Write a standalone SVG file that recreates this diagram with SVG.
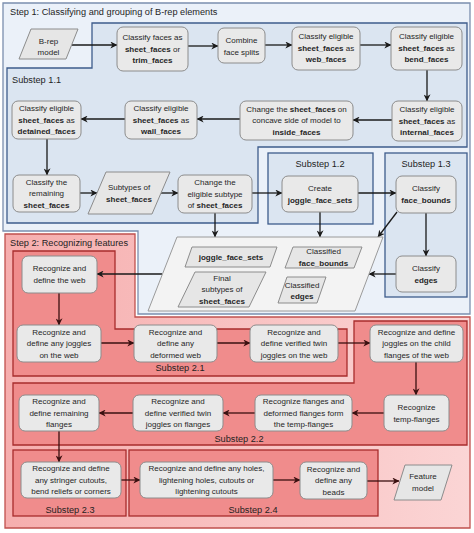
<svg xmlns="http://www.w3.org/2000/svg" width="474" height="533" viewBox="0 0 474 533">
<defs>
<style>
text{font-family:"Liberation Sans",Arial,sans-serif;font-size:8px;fill:#262626}
.t{text-anchor:middle}
.b{font-weight:bold}
.lbl{font-size:9.2px;fill:#1e1e1e}
.node rect{fill:#e9e9e9;stroke:#8c8c8c;stroke-width:1}
.node polygon{fill:#e6e6e6;stroke:#8c8c8c;stroke-width:1}
.big polygon{fill:#f3f3f3;stroke:#9a9a9a;stroke-width:1}
.s1{fill:#ebf1f9;stroke:#7b8fae;stroke-width:1.3}
.s1sub{fill:#dbe5f1;stroke:#3e5c8c;stroke-width:1.3}
.s2{fill:url(#pg);stroke:#c0504d;stroke-width:1.3}
.s2sub{fill:#f08c8c;stroke:#a82c2c;stroke-width:1.3}
.c1 line{stroke:#1a1a1a;stroke-width:1.3;marker-end:url(#ah)}
.c2 line{stroke:#3a1010;stroke-width:1.3;marker-end:url(#ah2)}
</style>
<linearGradient id="pg" x1="0" y1="0" x2="1" y2="0">
<stop offset="0" stop-color="#f6aeae"/>
<stop offset="1" stop-color="#fbd5d5"/>
</linearGradient>
<marker id="ah" viewBox="0 0 10 10" refX="9.5" refY="5" markerWidth="7" markerHeight="7" markerUnits="userSpaceOnUse" orient="auto">
<path d="M0,0 L10,5 L0,10 L3,5 z" fill="#1a1a1a"/>
</marker>
<marker id="ah2" viewBox="0 0 10 10" refX="9.5" refY="5" markerWidth="7" markerHeight="7" markerUnits="userSpaceOnUse" orient="auto">
<path d="M0,0 L10,5 L0,10 L3,5 z" fill="#3a1010"/>
</marker>
</defs>

<g id="regions">
<polygon id="step1" class="s1" points="3,3 470,3 470,314 138,314 138,231 3,231"/>
<polygon id="substep1_1" class="s1sub" points="92,23 467,23 467,147 258,147 258,223 7,223 7,68 92,68"/>
<rect id="substep1_2" class="s1sub" x="268" y="153" width="105" height="71"/>
<rect id="substep1_3" class="s1sub" x="385" y="153" width="82" height="144"/>
<polygon id="step2" class="s2" points="5,234 135,234 135,317 470,317 470,528 5,528"/>
<polygon id="substep2_1" class="s2sub" points="13,251 115,251 115,329 347,329 347,376 13,376"/>
<polygon id="substep2_2" class="s2sub" points="354,321 467,321 467,445 13,445 13,383 354,383"/>
<rect id="substep2_3" class="s2sub" x="13" y="450" width="113" height="66"/>
<rect id="substep2_4" class="s2sub" x="129" y="450" width="249" height="66"/>
<text class="lbl" x="10" y="15">Step 1: Classifying and grouping of B-rep elements</text>
<text class="lbl" x="12" y="83">Substep 1.1</text>
<text class="lbl t" x="320" y="167">Substep 1.2</text>
<text class="lbl t" x="426" y="167">Substep 1.3</text>
<text class="lbl" x="10" y="246">Step 2: Recognizing features</text>
<text class="lbl t" x="180" y="371">Substep 2.1</text>
<text class="lbl t" x="239" y="442">Substep 2.2</text>
<text class="lbl t" x="70" y="513">Substep 2.3</text>
<text class="lbl t" x="253" y="513">Substep 2.4</text>
</g>

<g id="connectors">
<g class="c1">
<line x1="72" y1="45" x2="117" y2="45"/>
<line x1="188" y1="46" x2="218" y2="46"/>
<line x1="265" y1="45" x2="292" y2="45"/>
<line x1="360" y1="45" x2="391" y2="45"/>
<line x1="427" y1="70" x2="427" y2="101"/>
<line x1="392" y1="120" x2="353" y2="120"/>
<line x1="240" y1="119" x2="197" y2="119"/>
<line x1="125" y1="119" x2="81" y2="119"/>
<line x1="47" y1="139" x2="47" y2="175"/>
<line x1="80" y1="193" x2="97" y2="193"/>
<line x1="161" y1="193" x2="178" y2="193"/>
<line x1="252" y1="193" x2="282" y2="193"/>
<line x1="358" y1="193" x2="396" y2="193"/>
<line x1="215" y1="213" x2="215" y2="237"/>
<line x1="320" y1="212" x2="320" y2="237"/>
<line x1="397" y1="212" x2="378" y2="237"/>
<line x1="426" y1="213" x2="426" y2="256"/>
<line x1="396" y1="274" x2="369" y2="274"/>
<line x1="162" y1="274" x2="97" y2="274"/>
</g>
<g class="c2">
<line x1="59" y1="293" x2="59" y2="325"/>
<line x1="101" y1="343" x2="134" y2="343"/>
<line x1="217" y1="343" x2="250" y2="343"/>
<line x1="338" y1="343" x2="370" y2="343"/>
<line x1="416" y1="362" x2="416" y2="395"/>
<line x1="384" y1="413" x2="352" y2="413"/>
<line x1="255" y1="413" x2="223" y2="413"/>
<line x1="133" y1="413" x2="99" y2="413"/>
<line x1="59" y1="431" x2="59" y2="462"/>
<line x1="121" y1="480" x2="140" y2="480"/>
<line x1="273" y1="480" x2="300" y2="480"/>
<line x1="367" y1="481" x2="399" y2="481"/>
</g>
</g>

<g id="brep_model" class="node">
<polygon points="31,29 78,29 66,59 19,59"/>
<text class="t"><tspan x="48.5" y="43.8">B-rep</tspan><tspan x="48.5" y="54.8">model</tspan></text>
</g>
<g id="classify_faces" class="node">
<rect x="117" y="27" width="71" height="44" rx="6"/>
<text class="t"><tspan x="152.5" y="40">Classify faces as</tspan><tspan x="152.5" y="51.5"><tspan class="b">sheet_faces</tspan> or</tspan><tspan x="152.5" y="63" class="b">trim_faces</tspan></text>
</g>
<g id="combine" class="node">
<rect x="218" y="28" width="47" height="35" rx="6"/>
<text class="t"><tspan x="241.5" y="42.5">Combine</tspan><tspan x="241.5" y="54.5">face splits</tspan></text>
</g>
<g id="web_faces" class="node">
<rect x="292" y="27" width="68" height="43" rx="6"/>
<text class="t"><tspan x="326" y="39.3">Classify eligible</tspan><tspan x="326" y="50.8"><tspan class="b">sheet_faces</tspan> as</tspan><tspan x="326" y="62.3" class="b">web_faces</tspan></text>
</g>
<g id="bend_faces" class="node">
<rect x="391" y="27" width="71" height="43" rx="6"/>
<text class="t"><tspan x="426.5" y="39.3">Classify eligible</tspan><tspan x="426.5" y="50.8"><tspan class="b">sheet_faces</tspan> as</tspan><tspan x="426.5" y="62.3" class="b">bend_faces</tspan></text>
</g>
<g id="internal_faces" class="node">
<rect x="392" y="101" width="70" height="40" rx="6"/>
<text class="t"><tspan x="427" y="112.3">Classify eligible</tspan><tspan x="427" y="123.8"><tspan class="b">sheet_faces</tspan> as</tspan><tspan x="427" y="135.3" class="b">internal_faces</tspan></text>
</g>
<g id="inside_faces" class="node">
<rect x="240" y="101" width="113" height="39" rx="6"/>
<text class="t"><tspan x="296.5" y="111.8">Change the <tspan class="b">sheet_faces</tspan> on</tspan><tspan x="296.5" y="123.3">concave side of model to</tspan><tspan x="296.5" y="134.8" class="b">inside_faces</tspan></text>
</g>
<g id="wall_faces" class="node">
<rect x="125" y="101" width="72" height="38" rx="6"/>
<text class="t"><tspan x="161" y="111.3">Classify eligible</tspan><tspan x="161" y="122.8"><tspan class="b">sheet_faces</tspan> as</tspan><tspan x="161" y="134.3" class="b">wall_faces</tspan></text>
</g>
<g id="detained_faces" class="node">
<rect x="12" y="101" width="69" height="38" rx="6"/>
<text class="t"><tspan x="46.5" y="111.3">Classify eligible</tspan><tspan x="46.5" y="122.8"><tspan class="b">sheet_faces</tspan> as</tspan><tspan x="46.5" y="134.3" class="b">detained_faces</tspan></text>
</g>
<g id="classify_remaining" class="node">
<rect x="13" y="175" width="67" height="37" rx="6"/>
<text class="t"><tspan x="46.5" y="184.8">Classify the</tspan><tspan x="46.5" y="196.3">remaining</tspan><tspan x="46.5" y="207.8" class="b">sheet_faces</tspan></text>
</g>
<g id="subtypes" class="node">
<polygon points="106,172 170,172 152,214 88,214"/>
<text class="t"><tspan x="129" y="190">Subtypes of</tspan><tspan x="129" y="202" class="b">sheet_faces</tspan></text>
</g>
<g id="change_subtype" class="node">
<rect x="178" y="175" width="74" height="38" rx="6"/>
<text class="t"><tspan x="215" y="185.3">Change the</tspan><tspan x="215" y="196.8">eligible subtype</tspan><tspan x="215" y="208.3">of <tspan class="b">sheet_faces</tspan></tspan></text>
</g>
<g id="create_joggle" class="node">
<rect x="282" y="176" width="76" height="36" rx="6"/>
<text class="t"><tspan x="320" y="190.8">Create</tspan><tspan x="320" y="202.8" class="b">joggle_face_sets</tspan></text>
</g>
<g id="classify_bounds" class="node">
<rect x="396" y="176" width="60" height="37" rx="6"/>
<text class="t"><tspan x="426" y="191.3">Classify</tspan><tspan x="426" y="203.3" class="b">face_bounds</tspan></text>
</g>
<g id="classify_edges" class="node">
<rect x="396" y="256" width="60" height="36" rx="6"/>
<text class="t"><tspan x="426" y="270.8">Classify</tspan><tspan x="426" y="282.8" class="b">edges</tspan></text>
</g>
<g id="results" class="big">
<polygon points="177,237 383,237 355,311 148,311"/>
</g>
<g id="res_joggle" class="node">
<polygon points="192,247 277,247 270,267 185,267"/>
<text class="t b" x="231" y="259.8">joggle_face_sets</text>
</g>
<g id="res_final" class="node">
<polygon points="195,272 266,272 249,307 178,307"/>
<text class="t"><tspan x="222" y="280.8">Final</tspan><tspan x="222" y="292.3">subtypes of</tspan><tspan x="222" y="303.8" class="b">sheet_faces</tspan></text>
</g>
<g id="res_bounds" class="node">
<polygon points="293,247 362,247 354,268 285,268"/>
<text class="t"><tspan x="323.5" y="254.3">Classified</tspan><tspan x="323.5" y="266" class="b">face_bounds</tspan></text>
</g>
<g id="res_edges" class="node">
<polygon points="287,277 326,277 317,303 278,303"/>
<text class="t"><tspan x="302" y="287.8">Classified</tspan><tspan x="302" y="299" class="b">edges</tspan></text>
</g>

<g id="define_web" class="node">
<rect x="22" y="256" width="75" height="37" rx="6"/>
<text class="t"><tspan x="59.5" y="271.3">Recognize and</tspan><tspan x="59.5" y="283.3">define the web</tspan></text>
</g>
<g id="joggles_web" class="node">
<rect x="17" y="325" width="84" height="37" rx="6"/>
<text class="t"><tspan x="59" y="334.8">Recognize and</tspan><tspan x="59" y="346.3">define any joggles</tspan><tspan x="59" y="357.8">on the web</tspan></text>
</g>
<g id="deformed_web" class="node">
<rect x="134" y="325" width="83" height="37" rx="6"/>
<text class="t"><tspan x="175.5" y="334.8">Recognize and</tspan><tspan x="175.5" y="346.3">define any</tspan><tspan x="175.5" y="357.8">deformed web</tspan></text>
</g>
<g id="twin_web" class="node">
<rect x="250" y="325" width="88" height="37" rx="6"/>
<text class="t"><tspan x="294" y="334.8">Recognize and</tspan><tspan x="294" y="346.3">define verified twin</tspan><tspan x="294" y="357.8">joggles on the web</tspan></text>
</g>
<g id="child_flanges" class="node">
<rect x="370" y="325" width="93" height="37" rx="6"/>
<text class="t"><tspan x="416.5" y="334.8">Recognize and define</tspan><tspan x="416.5" y="346.3">joggles on the child</tspan><tspan x="416.5" y="357.8">flanges of the web</tspan></text>
</g>
<g id="temp_flanges" class="node">
<rect x="384" y="395" width="65" height="36" rx="6"/>
<text class="t"><tspan x="416.5" y="409.8">Recognize</tspan><tspan x="416.5" y="421.8">temp-flanges</tspan></text>
</g>
<g id="flanges_form" class="node">
<rect x="255" y="395" width="97" height="36" rx="6"/>
<text class="t"><tspan x="303.5" y="404.3">Recognize flanges and</tspan><tspan x="303.5" y="415.8">deformed flanges form</tspan><tspan x="303.5" y="427.3">the temp-flanges</tspan></text>
</g>
<g id="twin_flanges" class="node">
<rect x="133" y="395" width="90" height="36" rx="6"/>
<text class="t"><tspan x="178" y="404.3">Recognize and</tspan><tspan x="178" y="415.8">define verified twin</tspan><tspan x="178" y="427.3">joggles on flanges</tspan></text>
</g>
<g id="remaining_flanges" class="node">
<rect x="19" y="395" width="80" height="36" rx="6"/>
<text class="t"><tspan x="59" y="404.3">Recognize and</tspan><tspan x="59" y="415.8">define remaining</tspan><tspan x="59" y="427.3">flanges</tspan></text>
</g>
<g id="stringer" class="node">
<rect x="21" y="462" width="100" height="36" rx="6"/>
<text class="t"><tspan x="71" y="471.3">Recognize and define</tspan><tspan x="71" y="482.8">any stringer cutouts,</tspan><tspan x="71" y="494.3">bend reliefs or corners</tspan></text>
</g>
<g id="holes" class="node">
<rect x="140" y="462" width="133" height="36" rx="6"/>
<text class="t"><tspan x="206.5" y="471.3">Recognize and define any holes,</tspan><tspan x="206.5" y="482.8">lightening holes, cutouts or</tspan><tspan x="206.5" y="494.3">lightening cutouts</tspan></text>
</g>
<g id="beads" class="node">
<rect x="300" y="462" width="67" height="37" rx="6"/>
<text class="t"><tspan x="333.5" y="471.8">Recognize and</tspan><tspan x="333.5" y="483.3">define any</tspan><tspan x="333.5" y="494.8">beads</tspan></text>
</g>
<g id="feature_model" class="node">
<polygon points="405,465 452,465 441,500 394,500"/>
<text class="t"><tspan x="423" y="479.3">Feature</tspan><tspan x="423" y="491.3">model</tspan></text>
</g>
</svg>
